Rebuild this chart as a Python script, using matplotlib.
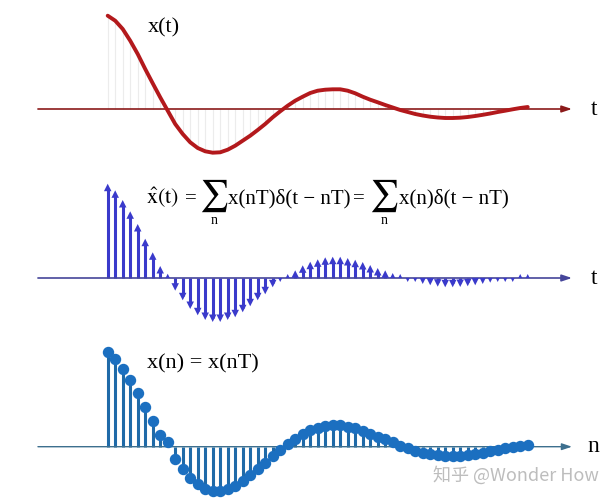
import numpy as np
import matplotlib
matplotlib.use("Agg")
import matplotlib.pyplot as plt

# ---- data (amplitude in arbitrary units) ----
n_idx = list(range(57))
# sampled values x(n)
x_vals = [94.3, 87.7, 78.0, 66.7, 54.0, 39.3, 25.7, 12.0, 4.3, -12.7,
          -22.3, -31.0, -37.3, -42.0, -44.0, -44.0, -42.0, -39.3, -34.3, -28.3,
          -22.3, -16.3, -9.3, -3.3, 2.7, 7.7, 12.7, 16.3, 18.7, 20.7,
          21.3, 21.3, 20.0, 18.3, 16.0, 13.0, 10.0, 7.7, 5.0, 1.0,
          -1.7, -4.0, -6.0, -7.3, -8.7, -9.3, -9.3, -9.0, -8.3, -7.3,
          -6.0, -4.7, -3.3, -1.7, -0.3, 1.0, 2.0]
# continuous curve x(t), read at the same sample instants
xt_vals = [93.3, 88.3, 80.0, 68.3, 55.0, 40.0, 25.7, 11.7, -1.7, -15.0,
           -25.0, -33.3, -39.0, -42.3, -43.7, -43.3, -40.7, -36.7, -31.7, -26.7,
           -21.0, -15.0, -8.3, -2.3, 3.3, 8.3, 12.3, 16.0, 18.3, 19.3,
           19.7, 19.7, 18.3, 15.7, 12.3, 9.3, 6.7, 4.0, 1.5, -1.0,
           -3.0, -5.0, -6.5, -7.7, -8.5, -9.0, -9.0, -8.7, -8.0, -7.0,
           -5.8, -4.5, -3.0, -1.7, -0.3, 1.0, 2.0]
axis_labels = ["t", "t", "n"]
title_top = "x(t)"
title_bottom = "x(n) = x(nT)"
formula_hat = r"$\hat{\mathrm{x}}\mathrm{(t)}$"
formula_parts = ["=", "x(nT)δ(t − nT)", "=", "x(n)δ(t − nT)"]
watermark = "知乎 @Wonder How"

plt.rcParams['mathtext.fontset'] = 'stix'
plt.rcParams['font.family'] = ['Liberation Serif', 'DejaVu Serif']

W, H = 616, 500
fig = plt.figure(figsize=(W / 100, H / 100), dpi=100)
fig.patch.set_facecolor('white')

n = np.array(n_idx, dtype=float)
v = np.array(x_vals)
vt = np.array(xt_vals)

XL = (-14.36, 67.77)
AX_START, AX_END = -9.3, 61.9
LABEL_X = 64.8


def make_ax(top_px, bot_px, base_px):
    ax = fig.add_axes([0, 1 - bot_px / H, 1, (bot_px - top_px) / H])
    ax.set_xlim(*XL)
    ax.set_ylim(-(bot_px - base_px), base_px - top_px)
    ax.axis('off')
    return ax


def axis_arrow(ax, color, lw):
    ax.annotate('', xy=(AX_END, 0), xytext=(AX_START, 0),
                arrowprops=dict(arrowstyle='-|>,head_length=0.6,head_width=0.2',
                                color=color, lw=lw, shrinkA=0, shrinkB=0))


# ---- panel 1: continuous signal ----
ax1 = make_ax(0, 165, 109)
ax1.vlines(n, 0, vt, color='#ececec', lw=0.8, zorder=1)
axis_arrow(ax1, '#8b1a1a', 1.2)
ax1.plot(n, vt, color='#b3191c', lw=2.8, solid_capstyle='round',
         solid_joinstyle='round', zorder=3)

# ---- panel 2: impulse train ----
ax2 = make_ax(165, 335, 278)
axis_arrow(ax2, '#45459a', 1.2)
head = 7.5
absv = np.abs(v)
sgn = np.sign(v)
size = np.clip(absv, 4.0, head)
big = absv > head
stem_end = v - sgn * head * 0.6
blue = '#3a3acb'
ax2.vlines(n[big], 0, stem_end[big], color=blue, lw=2.2, zorder=2)
center = np.where(big, v - sgn * head / 2, sgn * size / 2)
for mk, mask in (('^', v > 0), ('v', v < 0)):
    ax2.scatter(n[mask], center[mask], marker=mk, s=(size[mask] * 0.72) ** 2,
                color=blue, edgecolors='none', zorder=3)

# ---- panel 3: discrete sequence ----
ax3 = make_ax(335, 500, 446.7)
axis_arrow(ax3, '#3d6f8e', 1.0)
ax3.vlines(n, 0, v, color='#1f6aa8', lw=2.2, zorder=2)
ax3.plot(n, v, ls='none', marker='o', ms=7.2, color='#1b6fc0',
         mec='#1b6fc0', zorder=3)

# ---- texts ----
fs = 16
fig.text(148 / W, 1 - 32 / H, title_top, fontsize=fs, ha='left', va='baseline')
fig.text(147 / W, 1 - 368 / H, title_bottom, fontsize=fs, ha='left', va='baseline')

# formula, placed piece by piece
base_y = 1 - 203 / H
ffs = 15
fig.text(146 / W, base_y, formula_hat, fontsize=ffs + 1, ha='left', va='baseline')
fig.text(185 / W, base_y, formula_parts[0], fontsize=ffs, ha='left', va='baseline')
fig.text(228 / W, base_y, formula_parts[1], fontsize=ffs, ha='left', va='baseline')
fig.text(353 / W, base_y, formula_parts[2], fontsize=ffs, ha='left', va='baseline')
fig.text(399 / W, base_y, formula_parts[3], fontsize=ffs, ha='left', va='baseline')
for cx in (214, 384):
    fig.text(cx / W, 1 - 196 / H, r"$\sum$", fontsize=23, ha='center', va='center')
    fig.text(cx / W, 1 - 220 / H, "n", fontsize=10, ha='center', va='center')

for ax, lab in zip([ax1, ax2, ax3], axis_labels):
    ax.text(LABEL_X, 0, lab, fontsize=17, ha='center', va='center')

fig.text(516 / W, 1 - 475 / H, watermark, fontsize=13, color='#bdbdbd',
         ha='center', va='center', family=['Noto Sans CJK SC', 'DejaVu Sans'])

fig.savefig('out.png', dpi=100, facecolor='white')
